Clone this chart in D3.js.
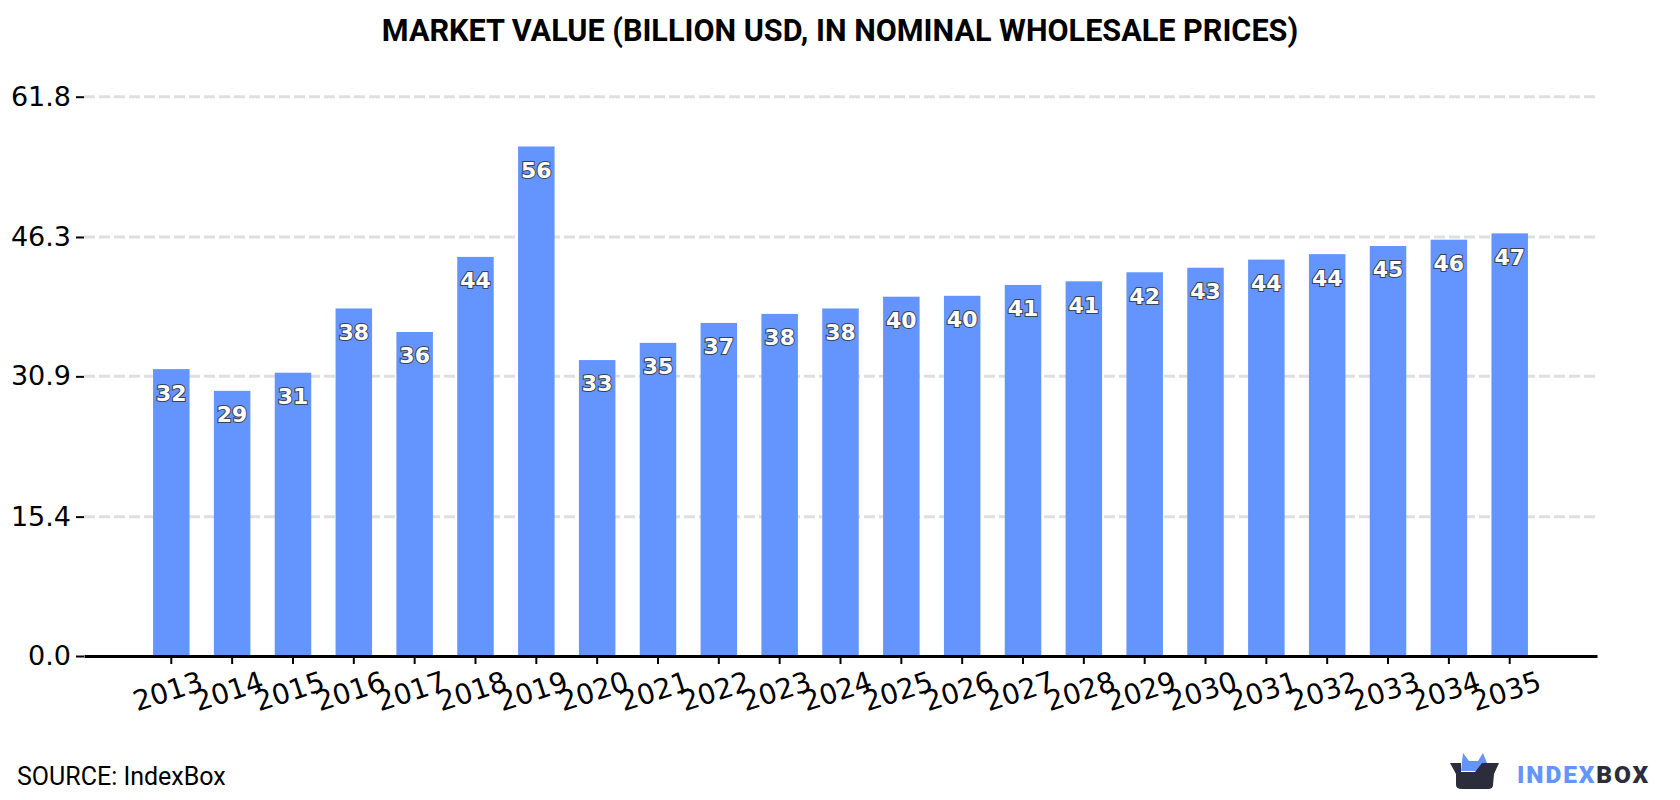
<!DOCTYPE html>
<html>
<head>
<meta charset="utf-8">
<script src="https://cdn.jsdelivr.net/npm/d3@7"></script>
<style>
  html, body { margin: 0; padding: 0; background: #fff; }
  svg { display: block; }
</style>
</head>
<body>
<svg id="chart" width="1680" height="800"></svg>
<script>
const years = ["2013","2014","2015","2016","2017","2018","2019","2020","2021","2022","2023","2024","2025","2026","2027","2028","2029","2030","2031","2032","2033","2034","2035"];
const marketValue = [31.7,29.3,31.3,38.4,35.8,44.1,56.3,32.7,34.6,36.8,37.8,38.4,39.7,39.8,41.0,41.4,42.4,42.9,43.8,44.4,45.3,46.0,46.7];
const yTicks = [0.0,15.4,30.9,46.3,61.8];
const titleText = "MARKET VALUE (BILLION USD, IN NOMINAL WHOLESALE PRICES)";
const sourceText = "SOURCE: IndexBox";

const svg = d3.select("#chart");
const plotLeft = 84, plotRight = 1597, plotTop = 96.7, plotBottom = 656;
const barColor = "#6495ff";

const x = d3.scaleBand().domain(years).range([plotLeft, plotRight]).paddingInner(0.4).paddingOuter(1.135);
const y = d3.scaleLinear().domain([0, 61.8]).range([plotBottom, plotTop]);

// Dashed horizontal gridlines
svg.append("g").selectAll("line").data(yTicks.filter(t => t > 0)).join("line")
  .attr("x1", plotLeft).attr("x2", plotRight)
  .attr("y1", d => y(d)).attr("y2", d => y(d))
  .attr("stroke", "#dfdfdf").attr("stroke-width", 3).attr("stroke-dasharray", "11 4");

// Bars
svg.append("g").selectAll("rect").data(years).join("rect")
  .attr("x", d => x(d)).attr("width", x.bandwidth())
  .attr("y", (d, i) => y(marketValue[i]))
  .attr("height", (d, i) => plotBottom - y(marketValue[i]))
  .attr("fill", barColor);

// Value labels inside the bars
svg.append("g").selectAll("text").data(years).join("text")
  .attr("x", d => x(d) + x.bandwidth() / 2)
  .attr("y", (d, i) => y(marketValue[i]) + 23.5)
  .attr("dy", "0.36em")
  .attr("text-anchor", "middle")
  .attr("font-family", "DejaVu Sans").attr("font-weight", "bold").attr("font-size", 22)
  .attr("fill", "#fff").attr("stroke", "#3d4250").attr("stroke-width", 2)
  .attr("paint-order", "stroke")
  .text((d, i) => Math.round(marketValue[i]));

// Y axis
const yAxis = svg.append("g").attr("transform", `translate(${plotLeft},0)`)
  .call(d3.axisLeft(y).tickValues(yTicks).tickFormat(d3.format(".1f")).tickSize(8).tickPadding(5));
yAxis.select(".domain").remove();
yAxis.selectAll(".tick line").attr("stroke", "#000").attr("stroke-width", 2);
yAxis.selectAll("text").attr("font-family", "DejaVu Sans").attr("font-size", 27).attr("fill", "#000");

// X axis
const xAxis = svg.append("g").attr("transform", `translate(0,${plotBottom})`)
  .call(d3.axisBottom(x).tickSize(8).tickSizeOuter(0));
xAxis.select(".domain").attr("stroke", "#000").attr("stroke-width", 3);
xAxis.selectAll(".tick line").attr("stroke", "#000").attr("stroke-width", 2);
xAxis.selectAll("text")
  .attr("font-family", "DejaVu Sans").attr("font-size", 28).attr("fill", "#000")
  .attr("text-anchor", "middle").attr("dy", 0).attr("y", 0)
  .attr("transform", "translate(-3,37) rotate(-18)")
  .attr("dominant-baseline", "middle");

// Title and source
svg.append("text").attr("x", 840).attr("y", 41).attr("text-anchor", "middle")
  .attr("font-family", "Roboto").attr("font-weight", "bold").attr("font-size", 30.6).attr("fill", "#000")
  .text(titleText);
svg.append("text").attr("x", 17).attr("y", 785)
  .attr("font-family", "Roboto").attr("font-size", 25).attr("fill", "#000")
  .text(sourceText);

// Brand mark
const logo = svg.append("g");
logo.append("path").attr("d", "M1461 771 L1463 753 L1469 761 L1478 761 L1483 753 L1487 763 L1487 771 Z").attr("fill", barColor);
logo.append("path").attr("d", "M1450 763 L1461 763 L1461 772 L1475 772 L1482 763 L1499 763 L1494 774 L1493 785 Q1493 789 1488 789 L1462 789 Q1456 789 1456 785 L1456 774 Z").attr("fill", "#2b2d3a");
const brand = svg.append("text").attr("x", 1517).attr("y", 782.5)
  .attr("font-family", "Roboto").attr("font-weight", "900").attr("font-size", 24.5).attr("letter-spacing", 1.9);
brand.append("tspan").attr("fill", barColor).text("INDEX");
brand.append("tspan").attr("fill", "#2b2d3a").text("BOX");
</script>
</body>
</html>
